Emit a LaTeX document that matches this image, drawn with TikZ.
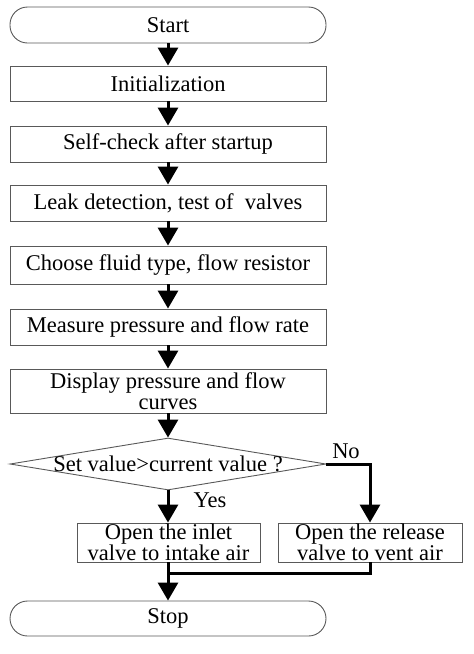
\documentclass[tikz,border=0pt]{standalone}
\usepackage{fontspec}
\setmainfont{Liberation Serif}
\usetikzlibrary{arrows.meta,shapes.geometric}
\begin{document}
\begin{tikzpicture}[x=1pt,y=-1pt,
  box/.style={draw=black!65, line width=0.9pt, rectangle, inner sep=0pt, minimum width=316pt, align=center,
    font=\fontsize{22.5}{19.5}\selectfont},
  term/.style={box, rounded corners=17.5pt},
  sbox/.style={box, minimum width=183pt, minimum height=39pt},
  lbl/.style={inner sep=0pt, font=\fontsize{22.5}{19.5}\selectfont},
  flow/.style={line width=3pt, -{Triangle[width=20pt,length=18pt]}},
  link/.style={line width=3pt}
]
\useasboundingbox (0,0) rectangle (474,654);
\node[term, minimum height=36pt] (start) at (168,25) {Start};
\node[box, minimum height=35pt] (init) at (168,83.5) {Initialization};
\node[box, minimum height=36pt] (self) at (168,144) {Self-check after startup};
\node[box, minimum height=36pt] (leak) at (168,203) {Leak detection, test of\ \ valves};
\node[box, minimum height=38pt] (fluid) at (168,265) {Choose fluid type, flow resistor};
\node[box, minimum height=36pt] (meas) at (168,327) {Measure pressure and flow rate};
\node[box, minimum height=44pt, font=\fontsize{22.5}{21}\selectfont] (disp) at (168,391) {Display pressure and flow\\curves};
\node[diamond, draw=black!65, line width=0.9pt, inner sep=0pt, minimum width=316pt, minimum height=52pt] (dec) at (168,464) {};
\node[lbl] (dectext) at (168,464) {Set value>current value ?};
\node[sbox] (inlet) at (168.5,542.5) {Open the inlet\\valve to intake air};
\node[sbox, minimum width=184pt] (vent) at (370,542.5) {Open the release\\valve to vent air};
\node[term, minimum height=35pt] (stop) at (168,618.5) {Stop};
\node[lbl] (no) at (346,451) {No};
\node[lbl] (yes) at (210,500) {Yes};
\coordinate (merge) at (168,573);
\coordinate (nocorner) at (370,464);

\draw[flow] (start) -- (init);
\draw[flow] (init) -- (self);
\draw[flow] (self) -- (leak);
\draw[flow] (leak) -- (fluid);
\draw[flow] (fluid) -- (meas);
\draw[flow] (meas) -- (disp);
\draw[flow] (disp) -- (dec.north);
\draw[flow] (dec.south) -- (dec.south |- inlet.north);
\draw[flow] (dec.east) -- (nocorner) -- (vent.north);
\draw[link] (inlet.south -| merge) -- (merge);
\draw[link] (vent.south) |- (merge);
\draw[flow] (merge) -- (stop.north -| merge);
\end{tikzpicture}
\end{document}
